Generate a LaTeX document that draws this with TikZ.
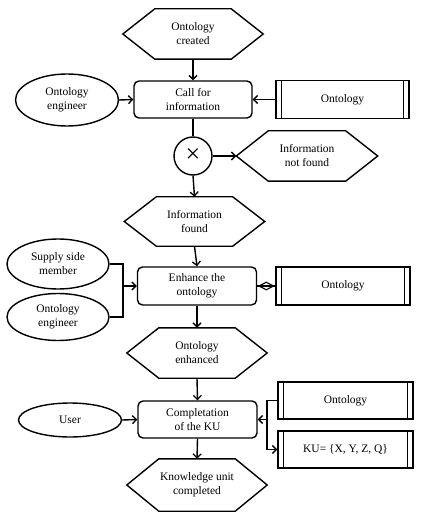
\documentclass[tikz,border=0pt]{standalone}
\usepackage{fontspec}
\setmainfont{Liberation Serif}
\usetikzlibrary{arrows.meta,shapes.geometric,calc}
\newcommand{\hexdraw}[1]{%
  \draw[ln] (#1.west) -- ([xshift=32pt]#1.north west) -- ([xshift=-32pt]#1.north east)
    -- (#1.east) -- ([xshift=-32pt]#1.south east) -- ([xshift=32pt]#1.south west) -- cycle;}
\newcommand{\dbars}[1]{%
  \draw[ln] ([xshift=6pt]#1.north west) -- ([xshift=6pt]#1.south west);
  \draw[ln] ([xshift=-6pt]#1.north east) -- ([xshift=-6pt]#1.south east);}
\begin{document}
\begin{tikzpicture}[x=1pt,y=-1pt,
  every node/.style={font=\fontsize{11.5}{14}\selectfont, align=center, inner sep=0pt},
  ln/.style={line width=1.4pt, line join=miter},
  arr/.style={ln,-{Straight Barb[length=4pt,width=8pt,line width=1.3pt]}},
  hexnode/.style={minimum width=140pt, minimum height=50pt},
  procbox/.style={draw, ln, rounded corners=5pt, minimum width=118pt, minimum height=37pt},
  actor/.style={draw, ln, ellipse, minimum width=103pt, minimum height=#1},
  store/.style={draw, ln, rectangle, minimum width=134pt, minimum height=37pt},
  xor/.style={draw, ln, circle, minimum size=38pt},
  dmd/.style={draw, line width=1.1pt, diamond, aspect=2, minimum width=15pt, minimum height=8pt}
]
\useasboundingbox (0,0) rectangle (422,518);
\fill[white] (0,0) rectangle (422,518);

% main column
\node[hexnode] (h1) at (193,34) {Ontology\\created};
\hexdraw{h1}
\node[procbox] (b1) at (193,99.5) {Call for\\information};
\node[xor] (c) at (193,156) {\fontsize{26}{26}\selectfont ×};
\node[hexnode, minimum width=141pt] (h2) at (307,156) {Information\\not found};
\hexdraw{h2}
\node[hexnode, minimum height=49pt] (h3) at (194.5,221.5) {Information\\found};
\hexdraw{h3}
\node[procbox, minimum width=119pt, minimum height=38pt] (b2) at (197,286) {Enhance the\\ontology};
\node[hexnode] (h4) at (197,353) {Ontology\\enhanced};
\hexdraw{h4}
\node[procbox, minimum width=119pt] (b3) at (197.5,419.5) {Completation\\of the KU};
\node[hexnode, minimum height=52pt] (h5) at (197,485) {Knowledge unit\\completed};
\hexdraw{h5}

% actors
\node[actor=52pt] (e1) at (67,100) {Ontology\\engineer};
\node[actor=50pt, minimum width=102pt] (e2) at (58,264) {Supply side\\member};
\node[actor=47pt, minimum width=102pt] (e3) at (58,317) {Ontology\\engineer};
\node[actor=34pt] (e4) at (70,420) {User};

% stores
\node[store, minimum height=38pt, minimum width=133pt] (r1) at (342.5,99.5) {Ontology};
\dbars{r1}
\node[store, minimum height=38pt] (r2) at (343,286) {Ontology};
\dbars{r2}
\node[store, minimum width=135pt] (r3) at (345.5,400.5) {Ontology};
\dbars{r3}
\node[store, minimum width=135pt] (r4) at (345.5,449.5) {KU= \{X, Y, Z, Q\}};
\dbars{r4}

% connectors main column
\draw[arr] (h1.south) -- (b1.north);
\draw[ln] (b1.south) -- (c.north);
\draw[arr] (c.south) -- (h3.north);
\draw[arr] (c.east) -- (h2.west);
\draw[arr] (h3.south) -- (b2.north);
\draw[arr] (b2.south) -- (h4.north);
\draw[arr] (h4.south) -- (b3.north);
\draw[arr] (b3.south) -- (h5.north);

% side connectors
\draw[arr] (e1.east) -- (b1.west);
\draw[arr] (r1.west) -- (b1.east);

\coordinate (brk) at (123,286);
\draw[ln] (e2.east) -| (brk) |- (e3.east);
\draw[arr] (brk) -- (b2.west);

\draw[ln] (b2.east) -- node[dmd] (dm) {} (r2.west);

\draw[arr] (e4.east) -- (b3.west);
\coordinate (jn) at (267,419.5);
\draw[ln] (r3.west) -| (jn);
\draw[arr] (jn) |- (r4.west);
\draw[arr] (jn) -- (b3.east);
\end{tikzpicture}
\end{document}
